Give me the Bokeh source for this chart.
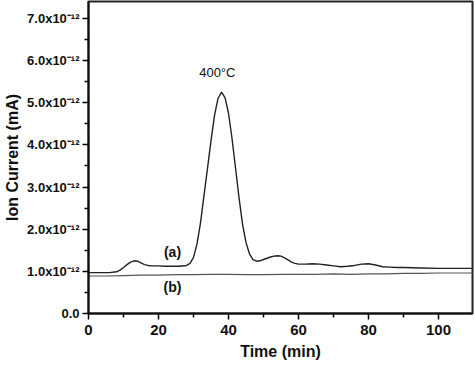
from bokeh.plotting import figure
from bokeh.models import FixedTicker, Range1d, Label
from bokeh.embed import file_html
from bokeh.resources import INLINE

# Data (ion current in units of 1e-12 mA)
t_a = [0, 2, 4, 6, 8, 9, 10, 11, 12, 13, 14, 15, 16, 17, 18, 20, 22, 24, 26, 28,
       29, 30, 31, 32, 33, 34, 35, 36, 37, 38, 39, 40, 41, 42, 43, 44, 45, 46, 47,
       48, 49, 50, 51, 52, 53, 54, 55, 56, 57, 58, 59, 60, 62, 64, 66, 68, 70, 72,
       74, 76, 78, 80, 82, 84, 86, 88, 90, 95, 100, 105, 110]
i_a = [0.97, 0.97, 0.97, 0.97, 0.99, 1.03, 1.09, 1.16, 1.22, 1.25, 1.24, 1.20, 1.16,
       1.14, 1.13, 1.13, 1.12, 1.12, 1.12, 1.14, 1.19, 1.33, 1.65, 2.15, 2.8, 3.45,
       4.1, 4.7, 5.1, 5.25, 5.12, 4.75, 4.15, 3.45, 2.75, 2.12, 1.68, 1.41, 1.28,
       1.24, 1.25, 1.28, 1.31, 1.34, 1.36, 1.37, 1.36, 1.32, 1.27, 1.22, 1.19, 1.17,
       1.17, 1.18, 1.17, 1.15, 1.13, 1.11, 1.12, 1.14, 1.17, 1.18, 1.15, 1.11, 1.10,
       1.09, 1.09, 1.08, 1.07, 1.07, 1.07]
t_b = [0, 5, 10, 15, 20, 25, 30, 35, 40, 45, 50, 55, 60, 65, 70, 75, 80, 85, 90,
       95, 100, 105, 110]
i_b = [0.89, 0.89, 0.90, 0.91, 0.91, 0.92, 0.92, 0.93, 0.93, 0.92, 0.92, 0.93,
       0.93, 0.93, 0.94, 0.93, 0.94, 0.94, 0.95, 0.95, 0.96, 0.96, 0.96]

y_ticks = [0, 1, 2, 3, 4, 5, 6, 7]
y_tick_labels = ["0.0", "1.0x10\u207b\u00b9\u00b2", "2.0x10\u207b\u00b9\u00b2",
                 "3.0x10\u207b\u00b9\u00b2", "4.0x10\u207b\u00b9\u00b2",
                 "5.0x10\u207b\u00b9\u00b2", "6.0x10\u207b\u00b9\u00b2",
                 "7.0x10\u207b\u00b9\u00b2"]
x_ticks = [0, 20, 40, 60, 80, 100]

p = figure(width=474, height=366, output_backend="svg", toolbar_location=None,
           x_range=Range1d(0, 109.7), y_range=Range1d(0, 7.4),
           min_border_left=88, min_border_right=2, min_border_top=1,
           min_border_bottom=53)
p.background_fill_color = "white"
p.border_fill_color = "white"
p.outline_line_color = "#222222"
p.outline_line_width = 2
p.xgrid.visible = False
p.ygrid.visible = False

p.line(t_a, i_a, line_color="#222222", line_width=1.4)
p.line(t_b, i_b, line_color="#555555", line_width=1.2)

FONT = "Liberation Sans"
for ax in (p.xaxis[0], p.yaxis[0]):
    ax.axis_line_width = 2
    ax.axis_line_color = "#111111"
    ax.major_tick_line_width = 1.5
    ax.minor_tick_line_width = 1.5
    ax.major_tick_in = 0
    ax.major_tick_out = 6
    ax.minor_tick_in = 0
    ax.minor_tick_out = 4
    ax.major_label_text_font = FONT
    ax.major_label_text_font_style = "bold"
    ax.major_label_text_color = "#111111"
    ax.axis_label_text_font = FONT
    ax.axis_label_text_font_style = "bold"
    ax.axis_label_text_font_size = "16px"
    ax.axis_label_text_color = "#111111"

p.xaxis.major_label_text_font_size = "15px"
p.yaxis.major_label_text_font_size = "13px"

p.xaxis.ticker = FixedTicker(ticks=x_ticks, minor_ticks=[10, 30, 50, 70, 90, 110])
p.yaxis.ticker = FixedTicker(ticks=y_ticks,
                             minor_ticks=[0.5, 1.5, 2.5, 3.5, 4.5, 5.5, 6.5])
p.yaxis.major_label_overrides = {k: v for k, v in zip(y_ticks, y_tick_labels)}
p.xaxis.axis_label = "Time (min)"
p.yaxis.axis_label = "Ion Current (mA)"
p.xaxis.major_label_standoff = 5
p.xaxis.axis_label_standoff = 5
p.yaxis.major_label_standoff = 3
p.yaxis.axis_label_standoff = 3

p.add_layout(Label(x=36.8, y=5.72, text="400\u00b0C", text_font=FONT,
                   text_font_size="13px", text_align="center",
                   text_baseline="middle", text_color="#111111"))
p.add_layout(Label(x=24, y=1.46, text="(a)", text_font=FONT,
                   text_font_style="bold", text_font_size="14px",
                   text_align="center", text_baseline="middle",
                   text_color="#111111"))
p.add_layout(Label(x=24, y=0.62, text="(b)", text_font=FONT,
                   text_font_style="bold", text_font_size="14px",
                   text_align="center", text_baseline="middle",
                   text_color="#111111"))

open("out.html", "w").write(file_html(p, INLINE))
